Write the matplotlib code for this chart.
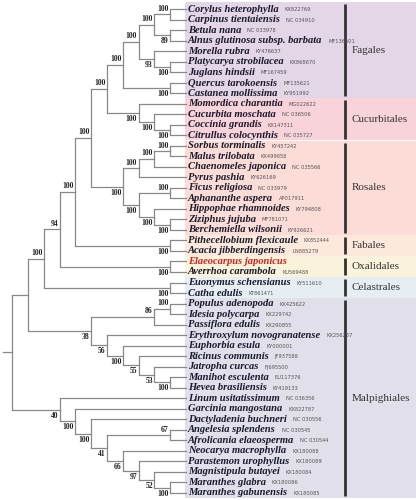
import matplotlib
matplotlib.use("Agg")
import matplotlib.pyplot as plt

# tips (top to bottom) and accession numbers
taxa = ["Corylus heterophylla", "Carpinus tientaiensis", "Betula nana",
        "Alnus glutinosa subsp. barbata", "Morella rubra", "Platycarya strobilacea",
        "Juglans hindsii", "Quercus tarokoensis", "Castanea mollissima",
        "Momordica charantia", "Cucurbita moschata", "Coccinia grandis",
        "Citrullus colocynthis", "Sorbus torminalis", "Malus trilobata",
        "Chaenomeles japonica", "Pyrus pashia", "Ficus religiosa",
        "Aphananthe aspera", "Hippophae rhamnoides", "Ziziphus jujuba",
        "Berchemiella wilsonii", "Pithecellobium flexicaule", "Acacia jibberdingensis",
        "Elaeocarpus japonicus", "Averrhoa carambola", "Euonymus schensianus",
        "Catha edulis", "Populus adenopoda", "Idesia polycarpa", "Passiflora edulis",
        "Erythroxylum novogranatense", "Euphorbia esula", "Ricinus communis",
        "Jatropha curcas", "Manihot esculenta", "Hevea brasiliensis",
        "Linum usitatissimum", "Garcinia mangostana", "Dactyladenia buchneri",
        "Angelesia splendens", "Afrolicania elaeosperma", "Neocarya macrophylla",
        "Parastemon urophyllus", "Magnistipula butayei", "Maranthes glabra",
        "Maranthes gabunensis"]
accessions = ["KX822769", "NC 034910", "NC 033978", "MF136501", "KY476637", "KX868670",
              "MF167459", "MF135621", "KY951992", "MG022622", "NC 036506", "KX147311",
              "NC 035727", "KY457242", "KX499858", "NC 035566", "KY626169", "NC 033979",
              "AP017911", "KY794808", "MF781071", "KY926621", "KX852444", "LN885279",
              "", "KU569488", "KY511610", "KT861471", "KX425622", "KX229742", "KX290855",
              "KX256287", "KY000001", "JF937588", "FJ695500", "EU117376", "KY419133",
              "NC 036356", "KX822787", "NC 030556", "NC 030545", "NC 030544", "KX180088",
              "KX180089", "KX180084", "KX180086", "KX180085"]
highlight = "Elaeocarpus japonicus"

# internal nodes: name, children, depth level, bootstrap, label below branch
nodes = [
    ("n01", (0, 1), 1, "100", False), ("n23", (2, 3), 1, "89", True),
    ("n0123", ("n01", "n23"), 2, "100", False), ("n56", (5, 6), 1, "100", True),
    ("n456", (4, "n56"), 2, "93", True), ("nA", ("n0123", "n456"), 3, "100", False),
    ("n78", (7, 8), 1, "100", True), ("nFag", ("nA", "n78"), 4, "100", False),
    ("n1112", (11, 12), 1, "100", True), ("n10", (10, "n1112"), 2, "100", True),
    ("nCuc", (9, "n10"), 3, "100", True), ("nFC", ("nFag", "nCuc"), 5, "100", False),
    ("n1314", (13, 14), 1, "100", False), ("n15", ("n1314", 15), 2, "100", False),
    ("n16", ("n15", 16), 3, "100", False), ("n1718", (17, 18), 1, "100", False),
    ("n2021", (20, 21), 1, "100", True), ("n19", (19, "n2021"), 2, "100", True),
    ("nB", ("n1718", "n19"), 3, "100", True), ("nRos", ("n16", "nB"), 4, "100", True),
    ("nFCR", ("nFC", "nRos"), 6, "100", False), ("n2223", (22, 23), 1, "100", True),
    ("nFab", ("nFCR", "n2223"), 7, "100", False), ("n2425", (24, 25), 1, "100", True),
    ("nOx", ("nFab", "n2425"), 8, "94", False), ("n2627", (26, 27), 1, "100", True),
    ("nCel", ("nOx", "n2627"), 9, "100", False),
    ("n2829", (28, 29), 1, "100", False), ("n30", ("n2829", 30), 2, "86", False),
    ("n3536", (35, 36), 1, "100", True), ("n34", (34, "n3536"), 2, "53", True),
    ("n33", (33, "n34"), 3, "55", True), ("n32", (32, "n33"), 4, "100", True),
    ("n31", (31, "n32"), 5, "56", True), ("nM1", ("n30", "n31"), 6, "38", True),
    ("nTop", ("nCel", "nM1"), 10, "", False),
    ("n4041", (40, 41), 1, "67", False), ("n4546", (45, 46), 1, "100", True),
    ("n44", (44, "n4546"), 2, "52", True), ("n43", (43, "n44"), 3, "97", True),
    ("n42", (42, "n43"), 4, "66", True), ("n41", ("n4041", "n42"), 5, "41", True),
    ("n39", (39, "n41"), 6, "100", True), ("n38", (38, "n39"), 7, "100", True),
    ("nM2", (37, "n38"), 8, "40", True), ("root", ("nTop", "nM2"), 11, "", False),
]

orders = ["Fagales", "Cucurbitales", "Rosales", "Fabales", "Oxalidales", "Celastrales", "Malpighiales"]
order_first = [0, 9, 13, 22, 24, 26, 28]
order_last = [8, 12, 21, 23, 25, 27, 46]
order_colors = ["#e3d6e6", "#f9d3da", "#fcdcd6", "#fde9dc", "#f8f3da", "#e6eef4", "#e0dfea"]

W, H = 416, 500
fig = plt.figure(figsize=(W / 100, H / 100), dpi=100)
ax = fig.add_axes([0, 0, 1, 1])
ax.set_xlim(0, W)
ax.set_ylim(H, 0)
ax.axis("off")

tip_x, step = 186, 15.8
y0, dy = 9, 10.52
def ty(i):
    return y0 + i * dy

pos = {}
for i in range(len(taxa)):
    pos[i] = (tip_x, ty(i))
for name, ch, lvl, sup, below in nodes:
    x = tip_x - lvl * step
    ys = [pos[c][1] for c in ch]
    y = sum(ys) / 2
    pos[name] = (x, y)
    ax.plot([x, x], ys, color="#888888", lw=0.9, solid_capstyle="butt")
    for c in ch:
        ax.plot([x, pos[c][0]], [pos[c][1], pos[c][1]], color="#888888", lw=0.9)
    if sup:
        ax.text(x - 1.5, y + (2 if below else -1.5), sup, ha="right",
                va="top" if below else "bottom", fontsize=5.5, fontweight="bold",
                family="Liberation Serif", color="#222222")
rx, ry = pos["root"]
ax.plot([3, rx], [ry, ry], color="#888888", lw=0.9)

# coloured order bands, bars and labels
for k, o in enumerate(orders):
    top = 2 if k == 0 else ty(order_first[k]) - dy / 2
    bot = 498 if k == len(orders) - 1 else ty(order_last[k]) + dy / 2
    ax.add_patch(plt.Rectangle((185, top), W - 185, bot - top, color=order_colors[k], lw=0, zorder=0))
    ax.plot([345, 345], [top + 2, bot - 2], color="#333333", lw=2, solid_capstyle="butt")
    ax.text(352, (top + bot) / 2, o, ha="left", va="center", fontsize=8,
            family="Liberation Serif", color="#333333")

fig.canvas.draw()
r = fig.canvas.get_renderer()
inv = ax.transData.inverted()
for i, t in enumerate(taxa):
    col = "#d42020" if t == highlight else "#1a1a2e"
    txt = ax.text(188, ty(i), t, ha="left", va="center", fontsize=7.6, fontweight="bold",
                  style="italic", family="Liberation Serif", color=col)
    if accessions[i]:
        bb = txt.get_window_extent(r)
        xe = inv.transform((bb.x1, bb.y0))[0]
        ax.text(xe + 6, ty(i) + 0.5, accessions[i], ha="left", va="center", fontsize=3.7,
                family="DejaVu Sans", color="#555555")

fig.savefig("out.png", dpi=100)
